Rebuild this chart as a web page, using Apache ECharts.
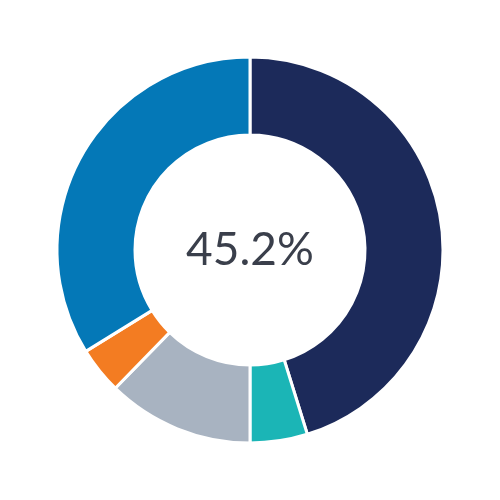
<!DOCTYPE html>
<html>
<head>
<meta charset="utf-8">
<script src="https://cdn.jsdelivr.net/npm/echarts@6/dist/echarts.min.js"></script>
<style>html,body{margin:0;padding:0;background:#fff;}#c{width:500px;height:500px;}</style>
</head>
<body>
<div id="c"></div>
<script>
const names = ['A', 'B', 'C', 'D', 'E'];
const values = [45.2, 4.8, 12.3, 3.9, 33.8];
const colors = ['#1c2a5a', '#1bb5b6', '#a8b3c1', '#f37c22', '#0478b7'];
const centerLabel = '45.2%';

const chart = echarts.init(document.getElementById('c'));
chart.setOption({
  animation: false,
  graphic: [{
    type: 'text', left: 'center', top: 'middle',
    style: { text: centerLabel, fontSize: 46, fontFamily: 'Lato', fill: '#3a3f4b', textAlign: 'center' }
  }],
  series: [{
    type: 'pie',
    center: [250, 250],
    radius: [115, 193],
    startAngle: 90,
    clockwise: true,
    label: { show: false },
    labelLine: { show: false },
    itemStyle: { borderColor: '#fff', borderWidth: 3 },
    data: names.map((n, i) => ({ name: n, value: values[i], itemStyle: { color: colors[i] } }))
  }]
});
</script>
</body>
</html>
